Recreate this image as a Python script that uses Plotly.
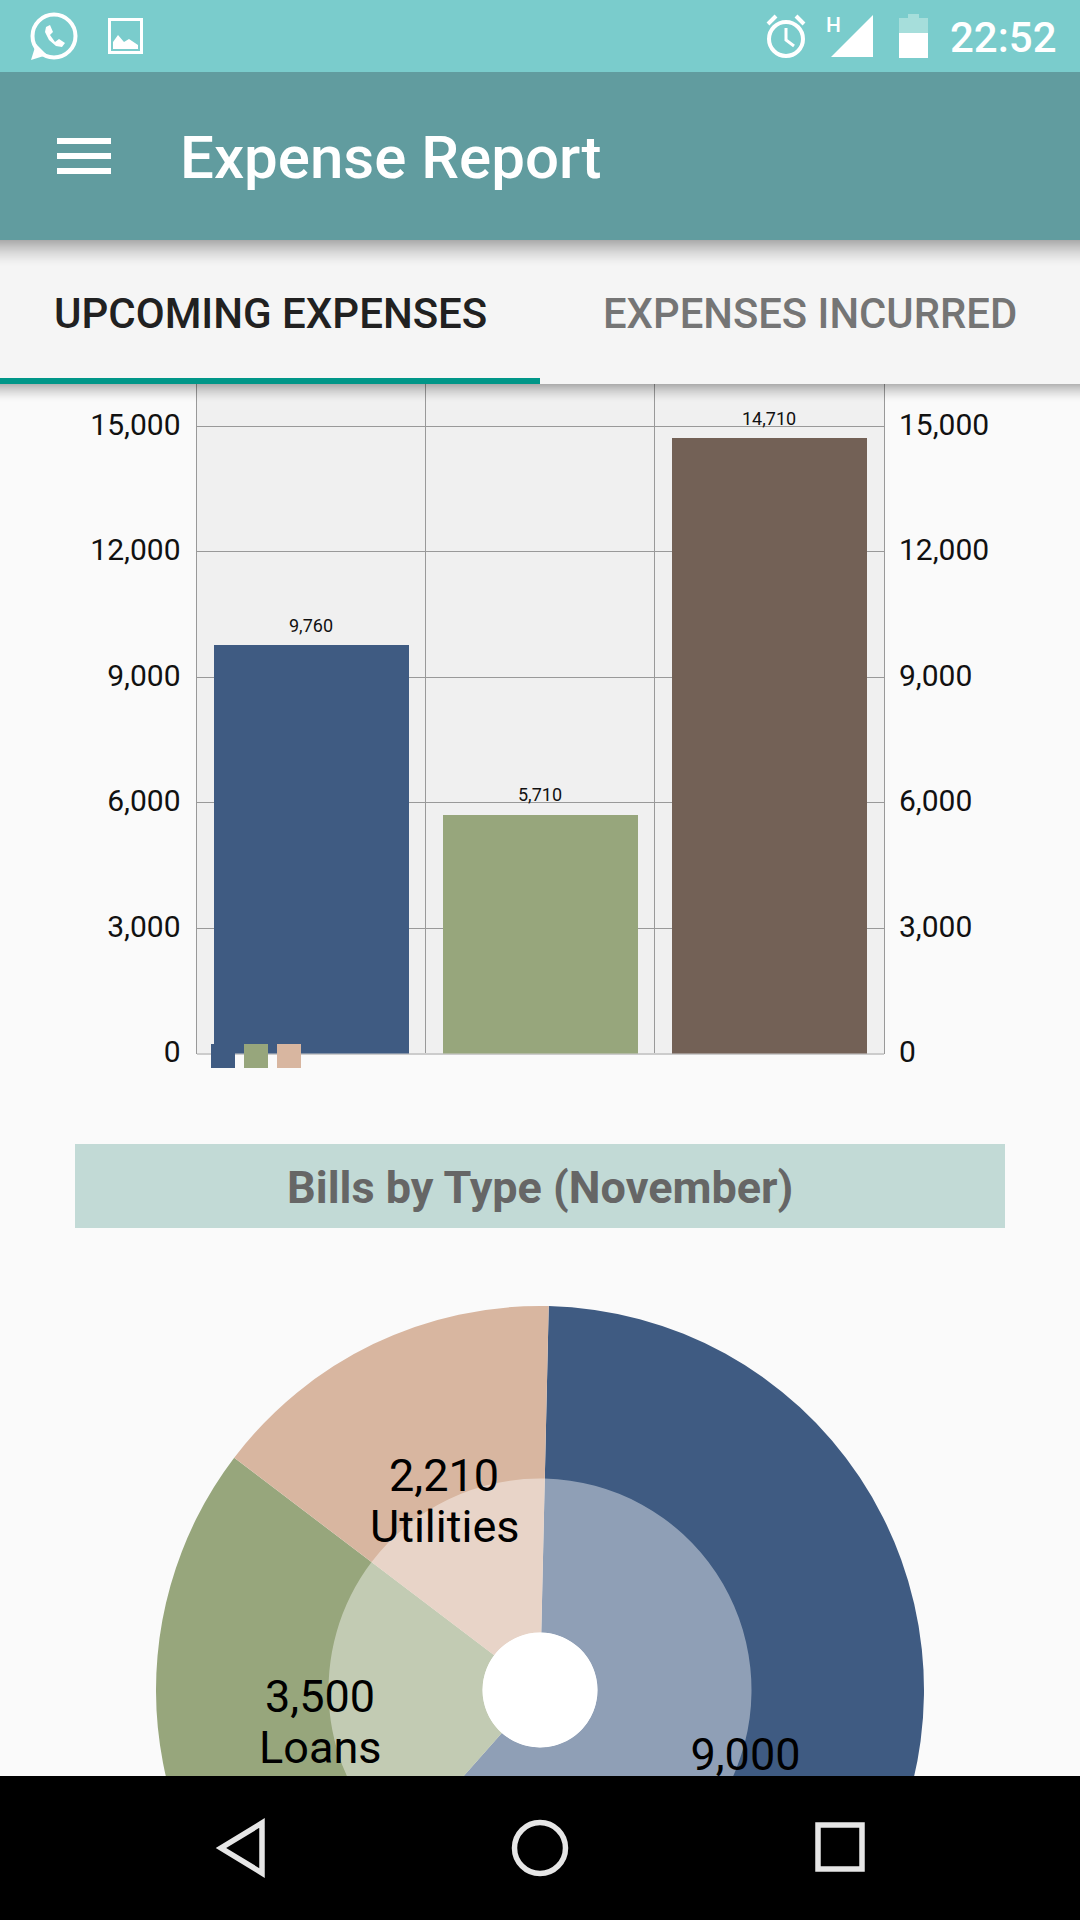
import plotly.graph_objects as go

# ---- data ----
BAR_X = [0, 1, 2]
BAR_VALUES = [9760, 5710, 14710]
BAR_COLORS = ["#3F5B82", "#97A67C", "#736156"]
Y_TICKS = [0, 3000, 6000, 9000, 12000, 15000]
Y_TICK_LABELS = ["0", "3,000", "6,000", "9,000", "12,000", "15,000"]
PIE_LABELS = ["Rent", "Loans", "Utilities"]
PIE_VALUES = [9000, 3500, 2210]
PIE_COLORS = ["#3F5B82", "#97A67C", "#D8B6A0"]
LEGEND_COLORS = ["#3F5B82", "#97A67C", "#D8B6A0"]

W, H = 1080, 2100
FONT = "Roboto"


def px(x):
    return x / W


def py(y):
    return 1 - y / H


shapes = []
annotations = []


def rect(x0, y0, x1, y1, fill, line=None, lw=0):
    shapes.append(dict(type="rect", xref="paper", yref="paper", x0=px(x0), x1=px(x1), y0=py(y1), y1=py(y0),
                       fillcolor=fill, line=dict(color=line or "rgba(0,0,0,0)", width=lw), layer="above"))


def circle(cx, cy, r, fill, line=None, lw=0):
    shapes.append(dict(type="circle", xref="paper", yref="paper", x0=px(cx - r), x1=px(cx + r), y0=py(cy + r), y1=py(cy - r),
                       fillcolor=fill, line=dict(color=line or "rgba(0,0,0,0)", width=lw), layer="above"))


def poly(points, fill="rgba(0,0,0,0)", line=None, lw=0, closed=True):
    d = "M " + " L ".join(f"{px(a):.5f},{py(b):.5f}" for a, b in points) + (" Z" if closed else "")
    shapes.append(dict(type="path", xref="paper", yref="paper", path=d, fillcolor=fill,
                       line=dict(color=line or "rgba(0,0,0,0)", width=lw), layer="above"))


def label(x, y, text, size, color, anchor="left", weight=400):
    annotations.append(dict(xref="paper", yref="paper", x=px(x), y=py(y), text=text, showarrow=False,
                            xanchor=anchor, yanchor="middle", borderpad=0,
                            font=dict(family=FONT, size=size, color=color, weight=weight)))


fig = go.Figure()

# bar chart
fig.add_trace(go.Bar(x=BAR_X, y=BAR_VALUES, marker=dict(color=BAR_COLORS, line=dict(width=0)), width=0.85, offset=-0.427,
                     hoverinfo="skip", showlegend=False))
# companion trace keeps the right axis alive
fig.add_trace(go.Scatter(x=BAR_X, y=BAR_VALUES, yaxis="y2", mode="markers", marker=dict(opacity=0),
                         hoverinfo="skip", showlegend=False))
for xv, yv in zip(BAR_X, BAR_VALUES):
    annotations.append(dict(xref="x", yref="y", x=xv, y=yv, yshift=20, text=f"{yv:,}", showarrow=False,
                            font=dict(family=FONT, size=18, color="#111111")))

# pie: outer solid ring, inner pale veil, then the text under the nav bar
cx, cy, R, r_mid, r_hole = 540, 1690, 384, 211.5, 57.5
fig.add_trace(go.Pie(labels=PIE_LABELS, values=PIE_VALUES, sort=False, direction="clockwise", rotation=1.3,
                     hole=r_hole / R, marker=dict(colors=PIE_COLORS, line=dict(width=0)), textinfo="none",
                     domain=dict(x=[px(cx - R), px(cx + R)], y=[py(cy + R), py(cy - R)]),
                     hoverinfo="skip", showlegend=False))
fig.add_trace(go.Pie(labels=PIE_LABELS, values=PIE_VALUES, sort=False, direction="clockwise", rotation=1.3,
                     hole=r_hole / r_mid, marker=dict(colors=["rgba(255,255,255,0.42)"] * 3, line=dict(width=0)),
                     textinfo="none",
                     domain=dict(x=[px(cx - r_mid), px(cx + r_mid)], y=[py(cy + r_mid), py(cy - r_mid)]),
                     hoverinfo="skip", showlegend=False))
tx, ty = cx, cy + 13
fig.add_trace(go.Pie(labels=PIE_LABELS, values=PIE_VALUES, sort=False, direction="clockwise", rotation=1.3,
                     hole=r_hole / R, marker=dict(colors=["rgba(0,0,0,0)"] * 3, line=dict(width=0)),
                     texttemplate=["%{value:,}<br>%{label}", " ", " "], textposition="inside",
                     insidetextorientation="horizontal",
                     insidetextfont=dict(family=FONT, size=45, color="#000000"),
                     domain=dict(x=[px(tx - R), px(tx + R)], y=[py(ty + R), py(ty - R)]),
                     hoverinfo="skip", showlegend=False))
# slice labels that sit clear of the nav bar, one line each for the tight leading
LABEL_SPOTS = {1: (320, 1696, 1747), 2: (444, 1475.5, 1526)}
for idx, (lx, ly1, ly2) in LABEL_SPOTS.items():
    label(lx, ly1, f"{PIE_VALUES[idx]:,}", 45, "#000000", "center")
    label(lx, ly2, PIE_LABELS[idx], 45, "#000000", "center")

# legend keys
for i, c in enumerate(LEGEND_COLORS):
    rect(211 + 33 * i, 1044, 235 + 33 * i, 1068, c)

# section title
rect(75, 1144, 1005, 1228, "#C2DAD6")
label(540, 1187, "Bills by Type (November)", 45, "#666666", "center", 700)

# pie hole
circle(cx, cy, r_hole, "#FFFFFF")

# shadow under tabs
for i in range(18):
    rect(0, 384 + i, W, 385 + i, f"rgba(0,0,0,{0.28 * (1 - i / 18) ** 1.6:.3f})")
# tabs
rect(0, 240, W, 384, "#F5F5F5")
rect(0, 378, 540, 384, "#009688")
label(53, 313, "UPCOMING EXPENSES", 42, "#212121", "left", 500)
label(602, 313, "EXPENSES INCURRED", 41.8, "#757575", "left", 500)
# shadow under app bar
for i in range(26):
    rect(0, 240 + i, W, 241 + i, f"rgba(0,0,0,{0.30 * (1 - i / 26) ** 1.5:.3f})")
# app bar
rect(0, 72, W, 240, "#619C9F")
for y0 in (138, 153, 168):
    rect(57, y0, 111, y0 + 6, "#FFFFFF")
label(179, 158, "Expense Report", 60, "#FFFFFF", "left", 500)
# status bar
rect(0, 0, W, 72, "#7ACCCC")
circle(54, 36, 21.5, "rgba(0,0,0,0)", "#FFFFFF", 4)
poly([(31, 60), (36, 44), (47, 55)], "#FFFFFF")
poly([(46, 27), (50, 25), (53, 32), (50, 35), (55, 42), (59, 39), (65, 43), (62, 47), (56, 46), (49, 40), (45, 32)], "#FFFFFF")
rect(109.5, 19.5, 141.5, 52.5, "rgba(0,0,0,0)", "#FFFFFF", 3)
poly([(113, 49), (113, 42), (118, 35), (124, 42), (129, 39), (138, 45), (138, 49)], "#FFFFFF")
circle(786, 39, 17, "rgba(0,0,0,0)", "#FFFFFF", 4)
poly([(786, 28), (786, 40), (794, 46)], line="#FFFFFF", lw=3, closed=False)
poly([(768, 24), (776, 16)], line="#FFFFFF", lw=4, closed=False)
poly([(804, 24), (796, 16)], line="#FFFFFF", lw=4, closed=False)
label(833, 24.5, "H", 21, "#FFFFFF", "center", 500)
poly([(831, 57), (873, 15), (873, 57)], "#FFFFFF")
rect(908, 14, 919, 19, "#A6DEDB")
rect(899, 18, 928, 33, "#A6DEDB")
rect(899, 33, 928, 58, "#FFFFFF")
label(949, 37, "22:52", 42, "#FFFFFF", "left", 500)
# nav bar
rect(0, 1776, W, H, "#000000")
poly([(262, 1823), (262, 1873), (221, 1848)], line="#E6E6E6", lw=5.5)
circle(540, 1848, 25.5, "rgba(0,0,0,0)", "#E6E6E6", 5.5)
rect(818, 1825, 862, 1869, "rgba(0,0,0,0)", "#E6E6E6", 5.5)

yaxis_common = dict(range=[0, 16004], tickvals=Y_TICKS, ticktext=Y_TICK_LABELS, ticks="", ticklabelshift=-2,
                    tickfont=dict(family=FONT, size=30, color="#111111"), fixedrange=True,
                    showline=True, linecolor="#999999", linewidth=1)

fig.update_layout(
    width=W, height=H, margin=dict(l=0, r=0, t=0, b=0, autoexpand=False), autosize=False,
    paper_bgcolor="#FAFAFA", plot_bgcolor="#F0F0F0", showlegend=False, bargap=0,
    xaxis=dict(domain=[px(196.5), px(884)], range=[-0.5, 2.5], tick0=-0.5, dtick=1, showticklabels=False, ticks="",
               showgrid=True, gridcolor="#999999", gridwidth=1, zeroline=False, showline=False, fixedrange=True),
    yaxis=dict(domain=[py(1053.5), py(384)], showgrid=True, gridcolor="#999999", gridwidth=1,
               zeroline=True, zerolinecolor="#CCCCCC", zerolinewidth=1.5, ticklabelstandoff=9, **yaxis_common),
    yaxis2=dict(overlaying="y", side="right", showgrid=False, zeroline=False, ticklabelstandoff=8, **yaxis_common),
    shapes=shapes, annotations=annotations,
)

fig.write_html(
    "out.html", config=dict(displayModeBar=False), default_height="1920px", default_width="1080px",
    post_script=(
        "var g=document.querySelector('.plotly-graph-div');"
        "[document.documentElement,document.body,g.parentElement,g].forEach(function(e){"
        "e.style.margin='0';e.style.padding='0';e.style.height='1920px';e.style.overflow='hidden';});"
    ),
)
